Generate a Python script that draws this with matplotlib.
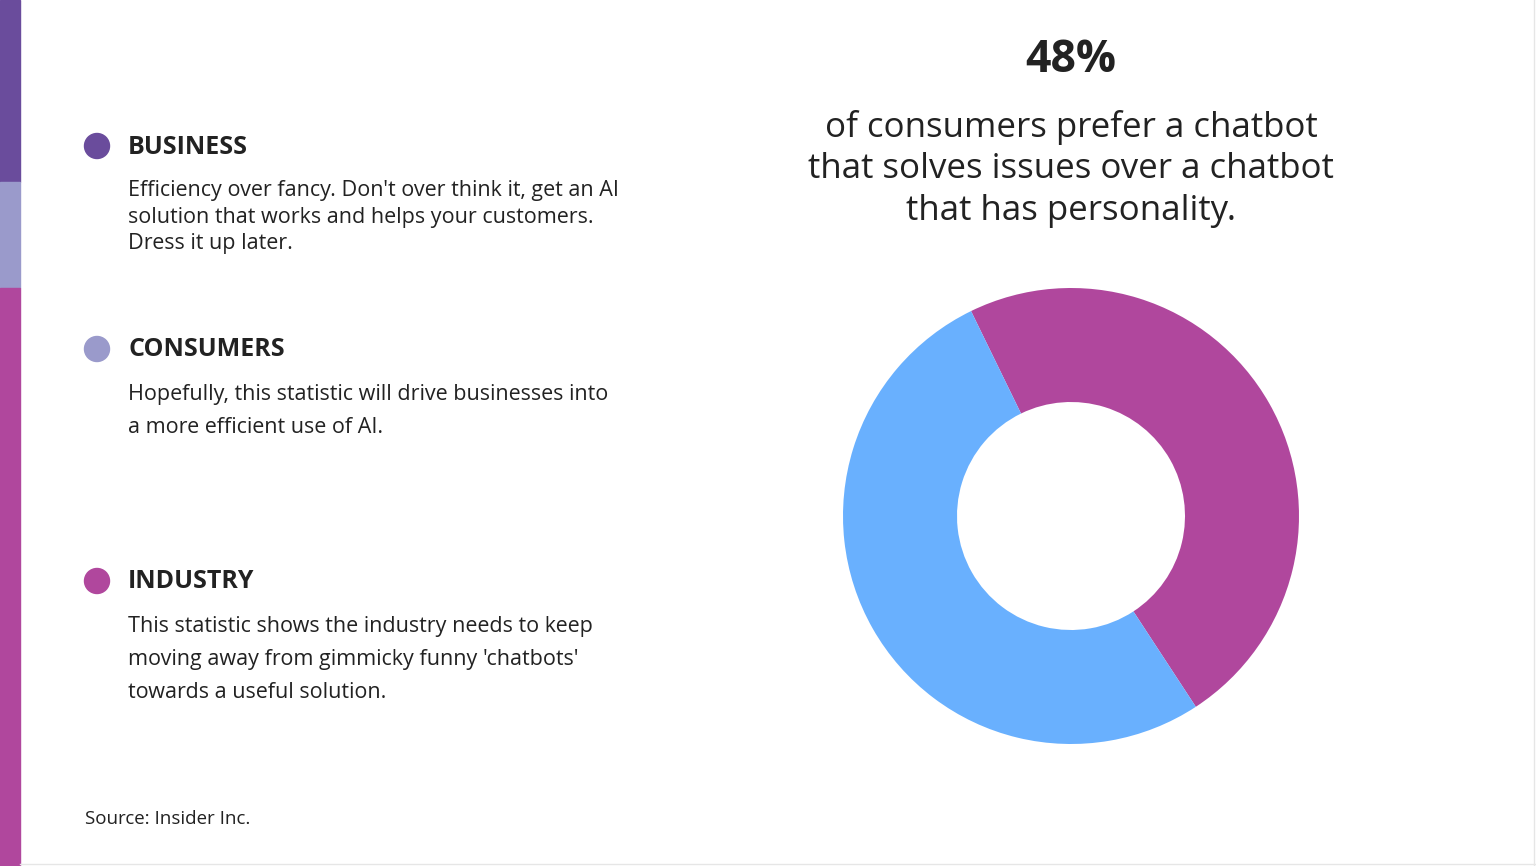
import matplotlib.pyplot as plt
from matplotlib.patches import Rectangle, Circle

labels = ["Prefer chatbot that solves issues", "Other"]
values = [48, 52]
colors = ["#B0479D", "#69B0FE"]

headings = ["BUSINESS", "CONSUMERS", "INDUSTRY"]
head_colors = ["#6A4C9C", "#9A9ACB", "#B0479D"]
bodies = ["Efficiency over fancy. Don't over think it, get an AI\nsolution that works and helps your customers.\nDress it up later.",
          "Hopefully, this statistic will drive businesses into\na more efficient use of AI.",
          "This statistic shows the industry needs to keep\nmoving away from gimmicky funny 'chatbots'\ntowards a useful solution."]

W, H = 1536, 866
fig = plt.figure(figsize=(W/100, H/100), dpi=100)
bg = fig.add_axes([0, 0, 1, 1])
bg.set_xlim(0, W); bg.set_ylim(H, 0); bg.axis("off")

# left stripe
bg.add_patch(Rectangle((0, 0), 20, 182, color="#6A4C9C"))
bg.add_patch(Rectangle((0, 182), 20, 106, color="#9A9ACB"))
bg.add_patch(Rectangle((0, 288), 20, 578, color="#B0479D"))
bg.plot([1534, 1534], [0, H], color="#e6e6e6", lw=1)
bg.plot([20, W], [864, 864], color="#e6e6e6", lw=1)

hy = [147, 350, 582]
by = [192, 396, 628]
lsp = [1.35, 1.75, 1.75]
for h, c, b, y1, y2, ls in zip(headings, head_colors, bodies, hy, by, lsp):
    bg.add_patch(Circle((97, y1 - 1), 12.5, color=c))
    bg.text(128, y1, h, fontsize=18, fontweight="bold", family="Open Sans",
            color="#222222", va="center", ha="left")
    bg.text(128, y2 - 12, b, fontsize=15.5, family="Open Sans", color="#222222",
            va="top", ha="left", linespacing=ls)

bg.text(85, 819, "Source: Insider Inc.", fontsize=13.5, family="Open Sans",
        color="#222222", va="center")

bg.text(1071, 60, "48%", fontsize=32, fontweight="bold", family="Open Sans",
        color="#222222", ha="center", va="center")
bg.text(1071, 169, "of consumers prefer a chatbot\nthat solves issues over a chatbot\nthat has personality.",
        fontsize=25, family="Open Sans", color="#222222", ha="center", va="center",
        linespacing=1.3)

# donut
r = 228
ax = fig.add_axes([(1071 - r)/W, 1 - (516 + r)/H, 2*r/W, 2*r/H])
ax.pie(values, colors=colors, startangle=116, counterclock=False,
       wedgeprops=dict(width=114/228, edgecolor="none"), radius=1)
ax.set_xlim(-1, 1); ax.set_ylim(-1, 1); ax.set_aspect("equal")
ax.axis("off")

fig.savefig("out.png", dpi=100)
